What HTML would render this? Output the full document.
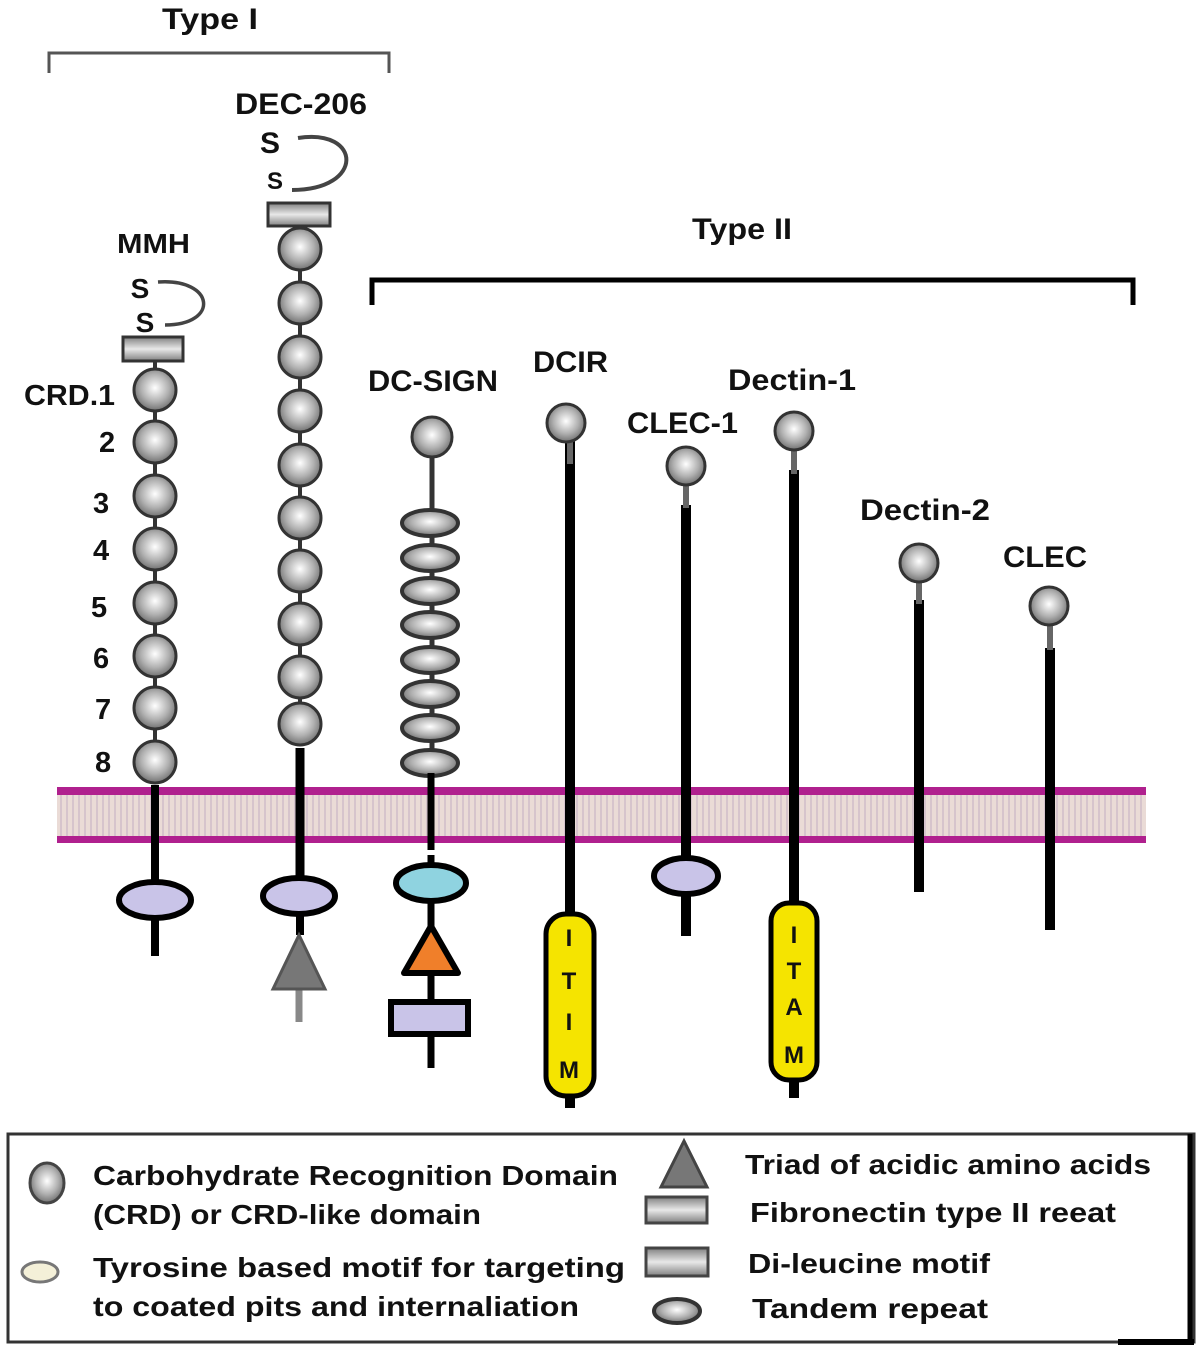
<!DOCTYPE html>
<html><head><meta charset="utf-8"><style>
html,body{margin:0;padding:0;background:#fff;}
svg{display:block;}
text{font-family:"Liberation Sans",sans-serif;font-weight:bold;fill:#111;}
</style></head><body>
<svg width="1200" height="1349" viewBox="0 0 1200 1349" xmlns="http://www.w3.org/2000/svg">
<defs>
<radialGradient id="g" cx="0.5" cy="0.45" r="0.55">
<stop offset="0" stop-color="#ffffff"/><stop offset="0.6" stop-color="#b0b0b0"/><stop offset="1" stop-color="#707070"/>
</radialGradient>
<linearGradient id="rg" x1="0" y1="0" x2="0" y2="1">
<stop offset="0" stop-color="#808080"/><stop offset="0.5" stop-color="#e8e8e8"/><stop offset="1" stop-color="#808080"/>
</linearGradient>
<pattern id="mem" width="6" height="10" patternUnits="userSpaceOnUse">
<rect width="6" height="10" fill="#eadbd6"/><rect x="0" width="2" height="10" fill="#d6c4cc"/>
</pattern>
</defs>

<!-- Type I bracket -->
<text x="162" y="29" font-size="30" textLength="96" lengthAdjust="spacingAndGlyphs">Type I</text>
<path d="M49 73 V53 H389 V73" fill="none" stroke="#555" stroke-width="3"/>

<!-- Type II bracket -->
<text x="692" y="239" font-size="30" textLength="100" lengthAdjust="spacingAndGlyphs">Type II</text>
<path d="M372 305 V280 H1133 V305" fill="none" stroke="#000" stroke-width="5"/>

<!-- Membrane -->
<rect x="57" y="790" width="1089" height="50" fill="url(#mem)"/>
<rect x="57" y="787" width="1089" height="8" fill="#b0208e"/>
<rect x="57" y="836" width="1089" height="7" fill="#b0208e"/>

<!-- MMH -->
<text x="117" y="253" font-size="28" textLength="73" lengthAdjust="spacingAndGlyphs" fill="#333">MMH</text>
<text x="140" y="298" font-size="28" text-anchor="middle">S</text>
<text x="145" y="332" font-size="28" text-anchor="middle">S</text>
<path d="M158 282 C215 278 220 325 165 325" fill="none" stroke="#444" stroke-width="3.5"/>
<rect x="123" y="337" width="60" height="24" fill="url(#rg)" stroke="#333" stroke-width="3"/>
<line x1="155" y1="360" x2="155" y2="780" stroke="#333" stroke-width="4"/>
<g fill="url(#g)" stroke="#333" stroke-width="3">
<circle cx="155" cy="390" r="21"/><circle cx="155" cy="442" r="21"/><circle cx="155" cy="496" r="21"/><circle cx="155" cy="549" r="21"/>
<circle cx="155" cy="603" r="21"/><circle cx="155" cy="656" r="21"/><circle cx="155" cy="708" r="21"/><circle cx="155" cy="762" r="21"/>
</g>
<g font-size="29">
<text x="24" y="405" textLength="91" lengthAdjust="spacingAndGlyphs">CRD.1</text>
<text x="99" y="452">2</text><text x="93" y="513">3</text><text x="93" y="560">4</text><text x="91" y="617">5</text>
<text x="93" y="668">6</text><text x="95" y="719">7</text><text x="95" y="772">8</text>
</g>
<line x1="155" y1="785" x2="155" y2="956" stroke="#000" stroke-width="8"/>
<ellipse cx="155" cy="900" rx="36" ry="18" fill="#c9c4e8" stroke="#000" stroke-width="6"/>

<!-- DEC-206 -->
<text x="235" y="114" font-size="30" textLength="132" lengthAdjust="spacingAndGlyphs">DEC-206</text>
<text x="270" y="153" font-size="30" text-anchor="middle">S</text>
<text x="275" y="189" font-size="24" text-anchor="middle">S</text>
<path d="M298 138 C362 128 365 190 292 190" fill="none" stroke="#444" stroke-width="4"/>
<rect x="268" y="203" width="62" height="23" fill="url(#rg)" stroke="#333" stroke-width="3"/>
<line x1="300" y1="226" x2="300" y2="745" stroke="#333" stroke-width="4"/>
<g fill="url(#g)" stroke="#333" stroke-width="3">
<circle cx="300" cy="249" r="21"/><circle cx="300" cy="303" r="21"/><circle cx="300" cy="357" r="21"/><circle cx="300" cy="411" r="21"/>
<circle cx="300" cy="465" r="21"/><circle cx="300" cy="518" r="21"/><circle cx="300" cy="571" r="21"/><circle cx="300" cy="624" r="21"/>
<circle cx="300" cy="677" r="21"/><circle cx="300" cy="724" r="21"/>
</g>
<line x1="300" y1="748" x2="300" y2="885" stroke="#000" stroke-width="9"/>
<line x1="300" y1="905" x2="300" y2="935" stroke="#000" stroke-width="8"/>
<ellipse cx="299" cy="896" rx="36" ry="18" fill="#c9c4e8" stroke="#000" stroke-width="6"/>
<line x1="299" y1="980" x2="299" y2="1022" stroke="#888" stroke-width="7"/>
<polygon points="299,935 273,989 325,989" fill="#777" stroke="#555" stroke-width="3"/>

<!-- DC-SIGN -->
<text x="368" y="391" font-size="30" textLength="130" lengthAdjust="spacingAndGlyphs">DC-SIGN</text>
<line x1="432" y1="455" x2="432" y2="770" stroke="#333" stroke-width="5"/>
<circle cx="432" cy="437" r="20" fill="url(#g)" stroke="#333" stroke-width="3"/>
<g fill="url(#g)" stroke="#333" stroke-width="4">
<ellipse cx="430" cy="523" rx="28" ry="13"/><ellipse cx="430" cy="558" rx="28" ry="13"/><ellipse cx="430" cy="591" rx="28" ry="13"/>
<ellipse cx="430" cy="625" rx="28" ry="13"/><ellipse cx="430" cy="660" rx="28" ry="13"/><ellipse cx="430" cy="694" rx="28" ry="13"/>
<ellipse cx="430" cy="728" rx="28" ry="13"/><ellipse cx="430" cy="763" rx="28" ry="13"/>
</g>
<line x1="431" y1="773" x2="431" y2="850" stroke="#000" stroke-width="7"/>
<line x1="431" y1="855" x2="431" y2="1068" stroke="#000" stroke-width="7"/>
<ellipse cx="431" cy="883" rx="35" ry="18" fill="#8fd3e0" stroke="#000" stroke-width="6"/>
<polygon points="431,926 404,973 458,973" fill="#f07f2a" stroke="#000" stroke-width="6" stroke-linejoin="round"/>
<rect x="391" y="1002" width="77" height="32" fill="#c9c4e8" stroke="#000" stroke-width="6"/>

<!-- DCIR -->
<text x="533" y="372" font-size="30" textLength="75" lengthAdjust="spacingAndGlyphs">DCIR</text>
<line x1="570" y1="440" x2="570" y2="1108" stroke="#000" stroke-width="10"/>
<rect x="567" y="440" width="6" height="24" fill="#666"/>
<circle cx="566" cy="423" r="19" fill="url(#g)" stroke="#333" stroke-width="3"/>
<rect x="546" y="914" width="48" height="182" rx="20" fill="#f5e400" stroke="#000" stroke-width="5"/>
<g font-size="24" font-weight="normal" text-anchor="middle">
<text x="569" y="946">I</text><text x="569" y="989">T</text><text x="569" y="1030">I</text><text x="569" y="1078">M</text>
</g>

<!-- CLEC-1 -->
<text x="627" y="433" font-size="30" textLength="111" lengthAdjust="spacingAndGlyphs">CLEC-1</text>
<line x1="686" y1="505" x2="686" y2="936" stroke="#000" stroke-width="10"/>
<rect x="683" y="484" width="6" height="24" fill="#666"/>
<circle cx="686" cy="466" r="19" fill="url(#g)" stroke="#333" stroke-width="3"/>
<ellipse cx="686" cy="876" rx="32" ry="18" fill="#c9c4e8" stroke="#000" stroke-width="6"/>

<!-- Dectin-1 -->
<text x="728" y="390" font-size="30" textLength="128" lengthAdjust="spacingAndGlyphs">Dectin-1</text>
<line x1="794" y1="470" x2="794" y2="1098" stroke="#000" stroke-width="10"/>
<rect x="791" y="450" width="6" height="24" fill="#666"/>
<circle cx="794" cy="431" r="19" fill="url(#g)" stroke="#333" stroke-width="3"/>
<rect x="771" y="903" width="46" height="177" rx="18" fill="#f5e400" stroke="#000" stroke-width="5"/>
<g font-size="24" font-weight="normal" text-anchor="middle">
<text x="794" y="943">I</text><text x="794" y="979">T</text><text x="794" y="1015">A</text><text x="794" y="1063">M</text>
</g>

<!-- Dectin-2 -->
<text x="860" y="520" font-size="30" textLength="130" lengthAdjust="spacingAndGlyphs">Dectin-2</text>
<line x1="919" y1="600" x2="919" y2="892" stroke="#000" stroke-width="10"/>
<rect x="916" y="580" width="6" height="24" fill="#666"/>
<circle cx="919" cy="563" r="19" fill="url(#g)" stroke="#333" stroke-width="3"/>

<!-- CLEC -->
<text x="1003" y="567" font-size="30" textLength="84" lengthAdjust="spacingAndGlyphs">CLEC</text>
<line x1="1050" y1="648" x2="1050" y2="930" stroke="#000" stroke-width="10"/>
<rect x="1047" y="624" width="6" height="26" fill="#666"/>
<circle cx="1049" cy="606" r="19" fill="url(#g)" stroke="#333" stroke-width="3"/>

<!-- Legend -->
<rect x="8" y="1134" width="1186" height="208" fill="none" stroke="#333" stroke-width="3"/>
<line x1="1190" y1="1134" x2="1190" y2="1344" stroke="#000" stroke-width="5"/>
<line x1="1118" y1="1342" x2="1194" y2="1342" stroke="#000" stroke-width="6"/>
<ellipse cx="47" cy="1183" rx="17" ry="20" fill="url(#g)" stroke="#444" stroke-width="3"/>
<ellipse cx="40" cy="1272" rx="18" ry="10" fill="#f4f0d8" stroke="#777" stroke-width="3"/>
<polygon points="684,1141 661,1187 707,1187" fill="#777" stroke="#444" stroke-width="3"/>
<rect x="646" y="1197" width="61" height="26" fill="url(#rg)" stroke="#444" stroke-width="3"/>
<rect x="646" y="1248" width="62" height="28" fill="url(#rg)" stroke="#444" stroke-width="3"/>
<ellipse cx="677" cy="1311" rx="23" ry="12" fill="url(#g)" stroke="#333" stroke-width="4"/>
<g font-size="28" font-weight="normal" fill="#111">
<text x="93" y="1185" textLength="525" lengthAdjust="spacingAndGlyphs">Carbohydrate Recognition Domain</text>
<text x="93" y="1224" textLength="388" lengthAdjust="spacingAndGlyphs">(CRD) or CRD-like domain</text>
<text x="93" y="1277" textLength="532" lengthAdjust="spacingAndGlyphs">Tyrosine based motif for targeting</text>
<text x="93" y="1316" textLength="486" lengthAdjust="spacingAndGlyphs">to coated pits and internaliation</text>
<text x="745" y="1174" textLength="406" lengthAdjust="spacingAndGlyphs">Triad of acidic amino acids</text>
<text x="750" y="1222" textLength="366" lengthAdjust="spacingAndGlyphs">Fibronectin type II reeat</text>
<text x="748" y="1273" textLength="242" lengthAdjust="spacingAndGlyphs">Di-leucine motif</text>
<text x="752" y="1318" textLength="236" lengthAdjust="spacingAndGlyphs">Tandem repeat</text>
</g>
</svg>
</body></html>
